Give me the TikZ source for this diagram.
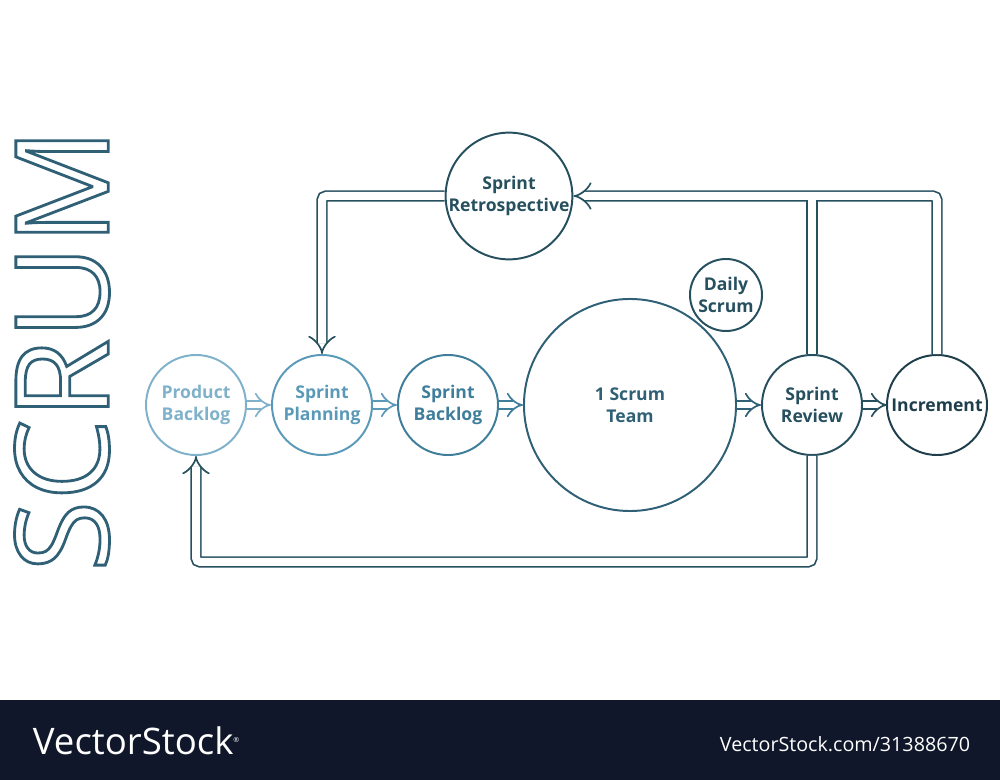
\documentclass[tikz,border=0pt]{standalone}
\usepackage{fontspec}
\setmainfont{Open Sans}
\usepackage{xcolor}
\usetikzlibrary{positioning,calc,arrows.meta}

\definecolor{cOne}{HTML}{7FB2CA}
\definecolor{cTwo}{HTML}{5A9AB8}
\definecolor{cThree}{HTML}{3F7E9B}
\definecolor{cFour}{HTML}{2F6076}
\definecolor{cFive}{HTML}{27505F}
\definecolor{cSix}{HTML}{1F3E4C}
\definecolor{barcol}{HTML}{10172A}

\tikzset{
  stage/.style={circle, draw=#1, line width=1.4pt, text=#1, minimum size=2.5cm, inner sep=0pt,
    font=\bfseries\fontsize{12.5}{15.5}\selectfont, align=center},
  hollow/.style={draw=#1, double=white, double distance=0.17cm, line width=1.2pt, -{Implies}},
  loopline/.style={draw=cFive, double=white, double distance=0.2cm, line width=1.2pt},
}

\begin{document}
\begin{tikzpicture}[x=0.025cm, y=-0.025cm]
            \useasboundingbox (0,0) rectangle (1000,780);
            % letters on the left
            \node[rotate=90, text=cFour, font=\fontsize{92}{92}\selectfont] (title) at (62,350)
              {\special{pdf:code 1 Tr 2 w}SCRUM\special{pdf:code 0 Tr}};

            % circles
            \node[stage=cOne] (pb) at (196,405) {Product\\Backlog};
            \node[stage=cTwo] (sp) at (322,405) {Sprint\\Planning};
            \node[stage=cThree] (sb) at (448,405) {Sprint\\Backlog};
            \node[stage=cFour, minimum size=5.3cm] (team) at (630,405) {1 Scrum\\Team};
            \node[stage=cFive] (sr) at (812,405) {Sprint\\Review};
            \node[stage=cSix] (inc) at (937,405) {Increment};
            \node[stage=cFive, minimum size=3cm] (retro) at (509,196) {Sprint\\Retrospective};
            \node[stage=cFive, minimum size=1.8cm] (daily) at (726,295) {Daily\\Scrum};

            % short arrows
            \draw[hollow=cOne] (pb.east) -- ++(24,0);
            \draw[hollow=cTwo] (sp.east) -- ++(24,0);
            \draw[hollow=cThree] (sb.east) -- ++(24,0);
            \draw[hollow=cFour] (team.east) -- ++(24,0);
            \draw[hollow=cFive] (sr.east) -- ++(24,0);

            % loops
            \draw[loopline] (sr.north) -- (sr.north |- retro.east);
            \draw[loopline, rounded corners=3pt, -{Implies}] (inc.north) -- (inc.north |- retro.east) -- (retro.east);
            \fill[white] ($(sr.north |- retro.east)+(-3.6,2)$) rectangle ($(sr.north |- retro.east)+(3.6,7)$);
            \draw[loopline, rounded corners=3pt, -{Implies}] (retro.west) -- (sp.north |- retro.west) -- (sp.north);
            \draw[loopline, rounded corners=3pt, -{Implies}] (sr.south) -- ++(0,106) -| (pb.south);

            % footer bar
            \fill[barcol] (0,700) rectangle (1000,780);
            \node[text=white, font=\fontsize{26}{26}\selectfont, anchor=west] (brand) at (28,741) {VectorStock\textsuperscript{\tiny\textregistered}};
            \node[text=white, font=\fontsize{14}{14}\selectfont, anchor=east] (ref) at (975,744) {VectorStock.com/31388670};
          \end{tikzpicture}
\end{document}
